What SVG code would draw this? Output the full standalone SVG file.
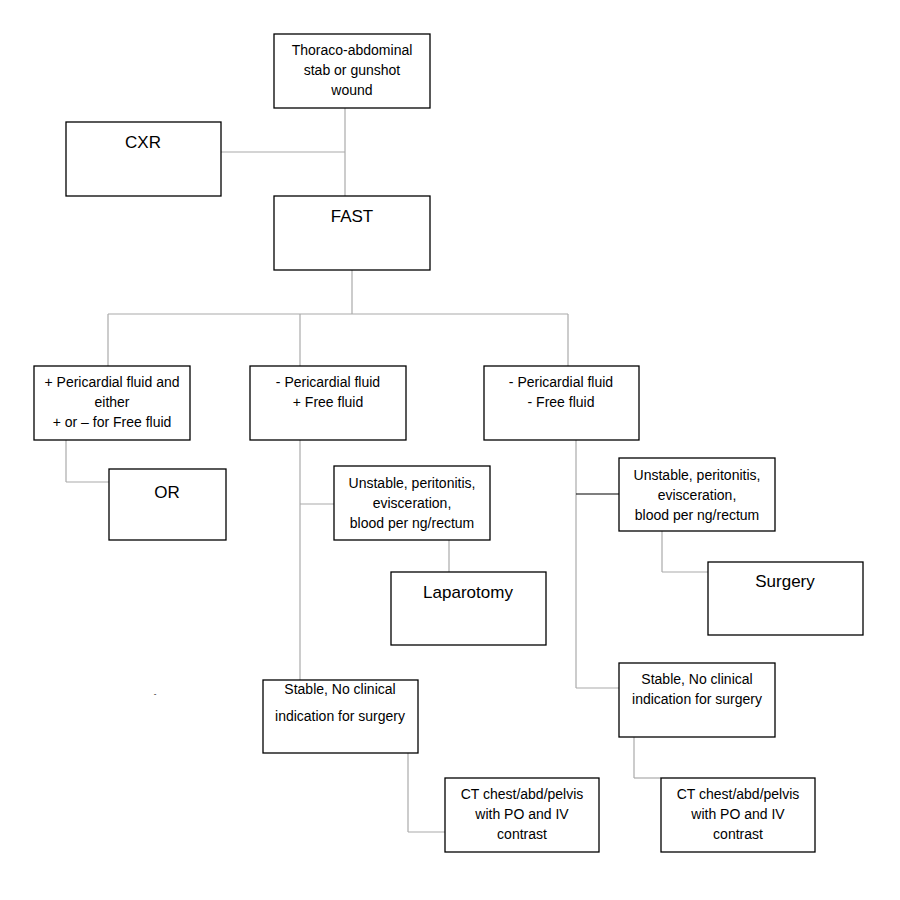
<svg xmlns="http://www.w3.org/2000/svg" width="900" height="900" viewBox="0 0 900 900">
<style>
.b{fill:#fff;stroke:#000;stroke-width:1.3}
text{font-family:"Liberation Sans",Arial,sans-serif;font-size:14px;text-anchor:middle;fill:#000}
.l{font-size:17px}
#c line{stroke:#aaa;stroke-width:1.2}
</style>
<rect width="900" height="900" fill="#fff"/>
<g id="c">
<line x1="345" y1="108" x2="345" y2="196"/><line x1="221" y1="152" x2="345" y2="152"/>
<line x1="352" y1="270" x2="352" y2="314"/><line x1="108" y1="314" x2="568" y2="314"/>
<line x1="108" y1="314" x2="108" y2="366"/><line x1="300" y1="314" x2="300" y2="366"/><line x1="568" y1="314" x2="568" y2="366"/>
<line x1="66" y1="440" x2="66" y2="482"/><line x1="66" y1="482" x2="109" y2="482"/>
<line x1="300" y1="440" x2="300" y2="680"/><line x1="300" y1="504" x2="334" y2="504"/>
<line x1="449" y1="540" x2="449" y2="572"/>
<line x1="408" y1="753" x2="408" y2="832"/><line x1="408" y1="832" x2="445" y2="832"/>
<line x1="576" y1="440" x2="576" y2="688"/><line x1="576" y1="494" x2="619" y2="494" style="stroke:#000"/><line x1="576" y1="688" x2="619" y2="688"/>
<line x1="662" y1="531" x2="662" y2="572"/><line x1="662" y1="572" x2="708" y2="572"/>
<line x1="634" y1="737" x2="634" y2="778"/><line x1="634" y1="778" x2="661" y2="778"/>
</g>
<g id="n1"><rect class="b" x="274" y="34" width="156" height="74"/><text x="352" y="55">Thoraco-abdominal</text><text x="352" y="75">stab or gunshot</text><text x="352" y="95">wound</text></g>
<g id="n2"><rect class="b" x="66" y="122" width="155" height="74"/><text class="l" x="143" y="148">CXR</text></g>
<g id="n3"><rect class="b" x="274" y="196" width="156" height="74"/><text class="l" x="352" y="222">FAST</text></g>
<g id="n4"><rect class="b" x="34" y="366" width="156" height="74"/><text x="112" y="387">+ Pericardial fluid and</text><text x="112" y="407">either</text><text x="112" y="427">+ or – for Free fluid</text></g>
<g id="n5"><rect class="b" x="250" y="366" width="156" height="74"/><text x="328" y="387">- Pericardial fluid</text><text x="328" y="407">+ Free fluid</text></g>
<g id="n6"><rect class="b" x="484" y="366" width="155" height="74"/><text x="561" y="387">- Pericardial fluid</text><text x="561" y="407">- Free fluid</text></g>
<g id="n7"><rect class="b" x="109" y="469" width="117" height="71"/><text class="l" x="167" y="498">OR</text></g>
<g id="n8"><rect class="b" x="334" y="466" width="156" height="74"/><text x="412" y="488">Unstable, peritonitis,</text><text x="412" y="508">evisceration,</text><text x="412" y="528">blood per ng/rectum</text></g>
<g id="n9"><rect class="b" x="391" y="572" width="155" height="73"/><text class="l" x="468" y="598">Laparotomy</text></g>
<g id="n10"><rect class="b" x="619" y="458" width="156" height="73"/><text x="697" y="480">Unstable, peritonitis,</text><text x="697" y="500">evisceration,</text><text x="697" y="520">blood per ng/rectum</text></g>
<g id="n11"><rect class="b" x="708" y="562" width="155" height="73"/><text class="l" x="785" y="587">Surgery</text></g>
<g id="n12"><rect class="b" x="263" y="680" width="155" height="73"/><text x="340" y="694">Stable, No clinical</text><text x="340" y="721">indication for surgery</text></g>
<g id="n13"><rect class="b" x="619" y="663" width="156" height="74"/><text x="697" y="684">Stable, No clinical</text><text x="697" y="704">indication for surgery</text></g>
<g id="n14"><rect class="b" x="445" y="778" width="154" height="74"/><text x="522" y="799">CT chest/abd/pelvis</text><text x="522" y="819">with PO and IV</text><text x="522" y="839">contrast</text></g>
<g id="n15"><rect class="b" x="661" y="778" width="154" height="74"/><text x="738" y="799">CT chest/abd/pelvis</text><text x="738" y="819">with PO and IV</text><text x="738" y="839">contrast</text></g>
<text x="155" y="696" style="font-size:8px">-</text>
</svg>
